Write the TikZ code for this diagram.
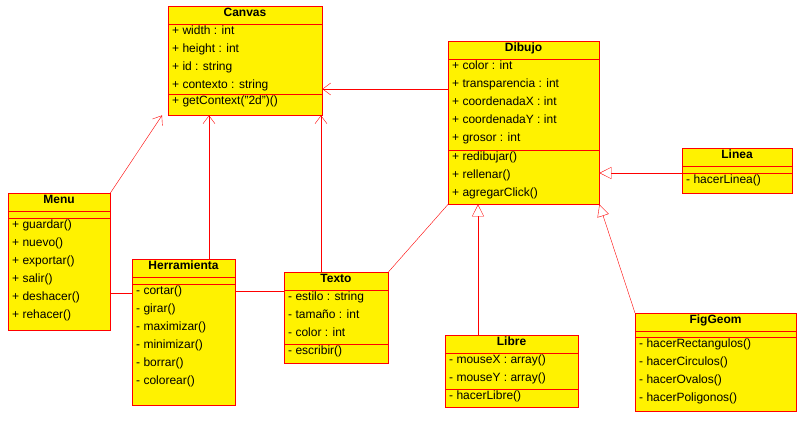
\documentclass[tikz,border=0pt]{standalone}
\usepackage{fontspec}
\setmainfont{Liberation Sans}
\usetikzlibrary{arrows.meta}
\newcommand\umlcls[9]{%
  \node[cls, minimum width={(#4-#2)*1pt}, minimum height={(#5-#3)*1pt}, anchor=north west] (#1) at (#2,#3) {};
  \draw[red] (#2,{#3+18}) -- (#4,{#3+18});
  \draw[red] (#2,#6) -- (#4,#6);
  \node[txt, font=\fontsize{12}{18}\selectfont\bfseries, anchor=north] (#1t) at ({(#2+#4)/2},{#3+1}) {#7};
  \node[txt, anchor=north west] (#1a) at ({#2+3},{#3+19}) {#8};
  \node[txt, anchor=north west] (#1m) at ({#2+3},{#6+1}) {#9};
}
\begin{document}
\begin{tikzpicture}[x=1pt,y=-1pt,
  cls/.style={draw=red, fill=yellow, inner sep=0pt},
  txt/.style={inner sep=1pt, align=left, font=\fontsize{12}{18}\selectfont},
  conn/.style={draw=red},
  dep/.style={conn, -{Straight Barb[length=8pt,width=12pt]}},
  gen/.style={conn, -{Triangle[open,length=12pt,width=12pt,fill=white]}}]
\useasboundingbox (0,0) rectangle (811,439);
\umlcls{canvas}{168}{6}{322}{115}{94}{Canvas}{+ width : int\\+ height : int\\+ id : string\\+ contexto : string}{+ getContext("2d")()}
\umlcls{dibujo}{448}{41}{599}{204}{150}{Dibujo}{+ color : int\\+ transparencia : int\\+ coordenadaX : int\\+ coordenadaY : int\\+ grosor : int}{+ redibujar()\\+ rellenar()\\+ agregarClick()}
\umlcls{linea}{682}{148}{792}{193}{173}{Linea}{}{- hacerLinea()}
\umlcls{menu}{8}{193}{110}{330}{218}{Menu}{}{+ guardar()\\+ nuevo()\\+ exportar()\\+ salir()\\+ deshacer()\\+ rehacer()}
\umlcls{herr}{132}{259}{235}{405}{284}{Herramienta}{}{- cortar()\\- girar()\\- maximizar()\\- minimizar()\\- borrar()\\- colorear()}
\umlcls{texto}{284}{272}{388}{363}{344}{Texto}{- estilo : string\\- tamaño : int\\- color : int}{- escribir()}
\umlcls{libre}{445}{335}{578}{407}{389}{Libre}{- mouseX : array()\\- mouseY : array()}{- hacerLibre()}
\umlcls{fig}{635}{313}{796}{411}{337}{FigGeom}{}{- hacerRectangulos()\\- hacerCirculos()\\- hacerOvalos()\\- hacerPoligonos()}
% dependencies
\draw[dep] (menu.north east) -- ([xshift=-6pt]canvas.south west);
\draw[dep] ([xshift=77pt]herr.north west) -- ([xshift=77pt]herr.north west |- canvas.south);
\draw[dep] ([xshift=37pt]texto.north west) -- ([xshift=37pt]texto.north west |- canvas.south);
\draw[dep] ([yshift=-48pt]dibujo.north west) -- ([yshift=-48pt]dibujo.north west -| canvas.east);
% associations
\draw[conn] ([yshift=-100pt]menu.north east) -- ([yshift=-100pt]menu.north east -| herr.west);
\draw[conn] ([yshift=-32pt]herr.north east) -- ([yshift=-32pt]herr.north east -| texto.west);
\draw[conn] (texto.north east) -- (dibujo.south west);
% generalizations
\draw[gen] ([xshift=33pt]libre.north west) -- ([xshift=33pt]libre.north west |- dibujo.south);
\draw[gen] ([yshift=-25pt]linea.north west) -- ([yshift=-25pt]linea.north west -| dibujo.east);
\draw[gen] (fig.north west) -- (dibujo.south east);
\end{tikzpicture}
\end{document}
